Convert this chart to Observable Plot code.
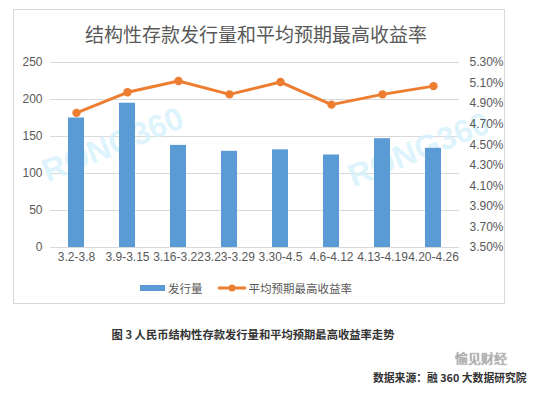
<!DOCTYPE html>
<html><head><meta charset="utf-8">
<script src="https://cdn.jsdelivr.net/npm/d3@7"></script>
<script src="https://cdn.jsdelivr.net/npm/@observablehq/plot@0.6"></script>
<style>
body{margin:0;background:#fff;font-family:"Liberation Sans","Noto Sans CJK SC",sans-serif;width:560px;height:394px;position:relative;overflow:hidden}
#box{position:absolute;left:13px;top:9px;width:492px;height:295px;border:1px solid #d9d9d9;box-sizing:border-box}
.t{position:absolute;white-space:nowrap}
</style></head><body>
<div id="box"></div>
<div class="t" id="title" style="left:0;width:512px;top:20px;text-align:center;font-size:19px;color:#595959;font-family:'Noto Sans CJK SC',sans-serif">结构性存款发行量和平均预期最高收益率</div>
<div id="chart" style="position:absolute;left:13px;top:45px"></div>
<div id="legend" class="t" style="left:140px;top:278px;font-size:11.5px;color:#595959;font-family:'Noto Sans CJK SC',sans-serif"></div>
<div class="t" style="left:0;width:506px;top:326px;text-align:center;font-size:11.3px;font-weight:bold;color:#333;font-family:'Noto Sans CJK SC',sans-serif">图 3 人民币结构性存款发行量和平均预期最高收益率走势</div>
<div class="t" style="left:373px;top:369px;font-size:10.8px;font-weight:bold;color:#333;font-family:'Noto Sans CJK SC',sans-serif">数据来源：融 360 大数据研究院</div>
<div class="t" style="left:455px;top:350px;font-size:13px;line-height:16px;color:#bbb;font-family:'Noto Sans CJK SC',sans-serif;text-shadow:0 0 1px #555">愉见财经</div>
<script>
const categories = ["3.2-3.8","3.9-3.15","3.16-3.22","3.23-3.29","3.30-4.5","4.6-4.12","4.13-4.19","4.20-4.26"];
const volume = [175, 195, 138, 130, 132, 125, 147, 134];
const rate = [4.81, 5.01, 5.12, 4.99, 5.11, 4.89, 4.99, 5.07];
const leftTicks = [0, 50, 100, 150, 200, 250];
const rightTicks = [3.5, 3.7, 3.9, 4.1, 4.3, 4.5, 4.7, 4.9, 5.1, 5.3];
const seriesNames = ["发行量", "平均预期最高收益率"];
const watermark = "RONG360";

const blue = "#5b9bd5", orange = "#ed7d31";
const rMin = 3.5, rMax = 5.3, yMax = 250;
const toY = r => (r - rMin) / (rMax - rMin) * yMax;

const rows = categories.map((c, i) => ({c, v: volume[i], r: toY(rate[i])}));

const chart = Plot.plot({
  width: 492, height: 230,
  marginTop: 17, marginBottom: 28, marginLeft: 37, marginRight: 46,
  style: {fontSize: "12px", color: "#595959", fontFamily: "'Liberation Sans',sans-serif", background: "transparent"},
  x: {domain: categories, paddingInner: 0.69, paddingOuter: 0.345},
  y: {domain: [0, yMax]},
  marks: [
    Plot.gridY(leftTicks, {stroke: "#d9d9d9", strokeOpacity: 1}),
    Plot.text([watermark], {frameAnchor: "middle", dx: -142, dy: -10, rotate: -22, fontSize: 32, fontWeight: "bold", fill: "#d4f1fc", fillOpacity: 0.8}),
    Plot.text([watermark], {frameAnchor: "middle", dx: 164, dy: -5, rotate: -22, fontSize: 32, fontWeight: "bold", fill: "#d4f1fc", fillOpacity: 0.8}),
    Plot.axisY(leftTicks, {anchor: "left", tickSize: 0, tickPadding: 8, label: null, fontSize: 12}),
    Plot.axisY(rightTicks.map(toY), {anchor: "right", tickSize: 0, tickPadding: 10, label: null, fontSize: 12,
      tickFormat: v => (rMin + v / yMax * (rMax - rMin)).toFixed(2) + "%"}),
    Plot.axisX({tickSize: 0, tickPadding: 5, label: null, fontSize: 12}),
    Plot.barY(rows, {x: "c", y: "v", fill: blue}),
    Plot.line(rows, {x: "c", y: "r", stroke: orange, strokeWidth: 3, curve: "linear"}),
    Plot.dot(rows, {x: "c", y: "r", r: 4.2, fill: orange})
  ]
});
document.getElementById("chart").appendChild(chart);

// legend
const lg = document.getElementById("legend");
lg.innerHTML = `<span style="display:inline-block;width:25px;height:6px;background:${blue};vertical-align:middle;margin-right:3px"></span><span style="vertical-align:middle">${seriesNames[0]}</span>`+
`<svg width="30" height="10" style="vertical-align:middle;margin-left:14px;margin-right:2px"><line x1="1" y1="5" x2="29" y2="5" stroke="${orange}" stroke-width="3"/><circle cx="15" cy="5" r="3.5" fill="${orange}"/></svg><span style="vertical-align:middle">${seriesNames[1]}</span>`;
</script>
</body></html>
